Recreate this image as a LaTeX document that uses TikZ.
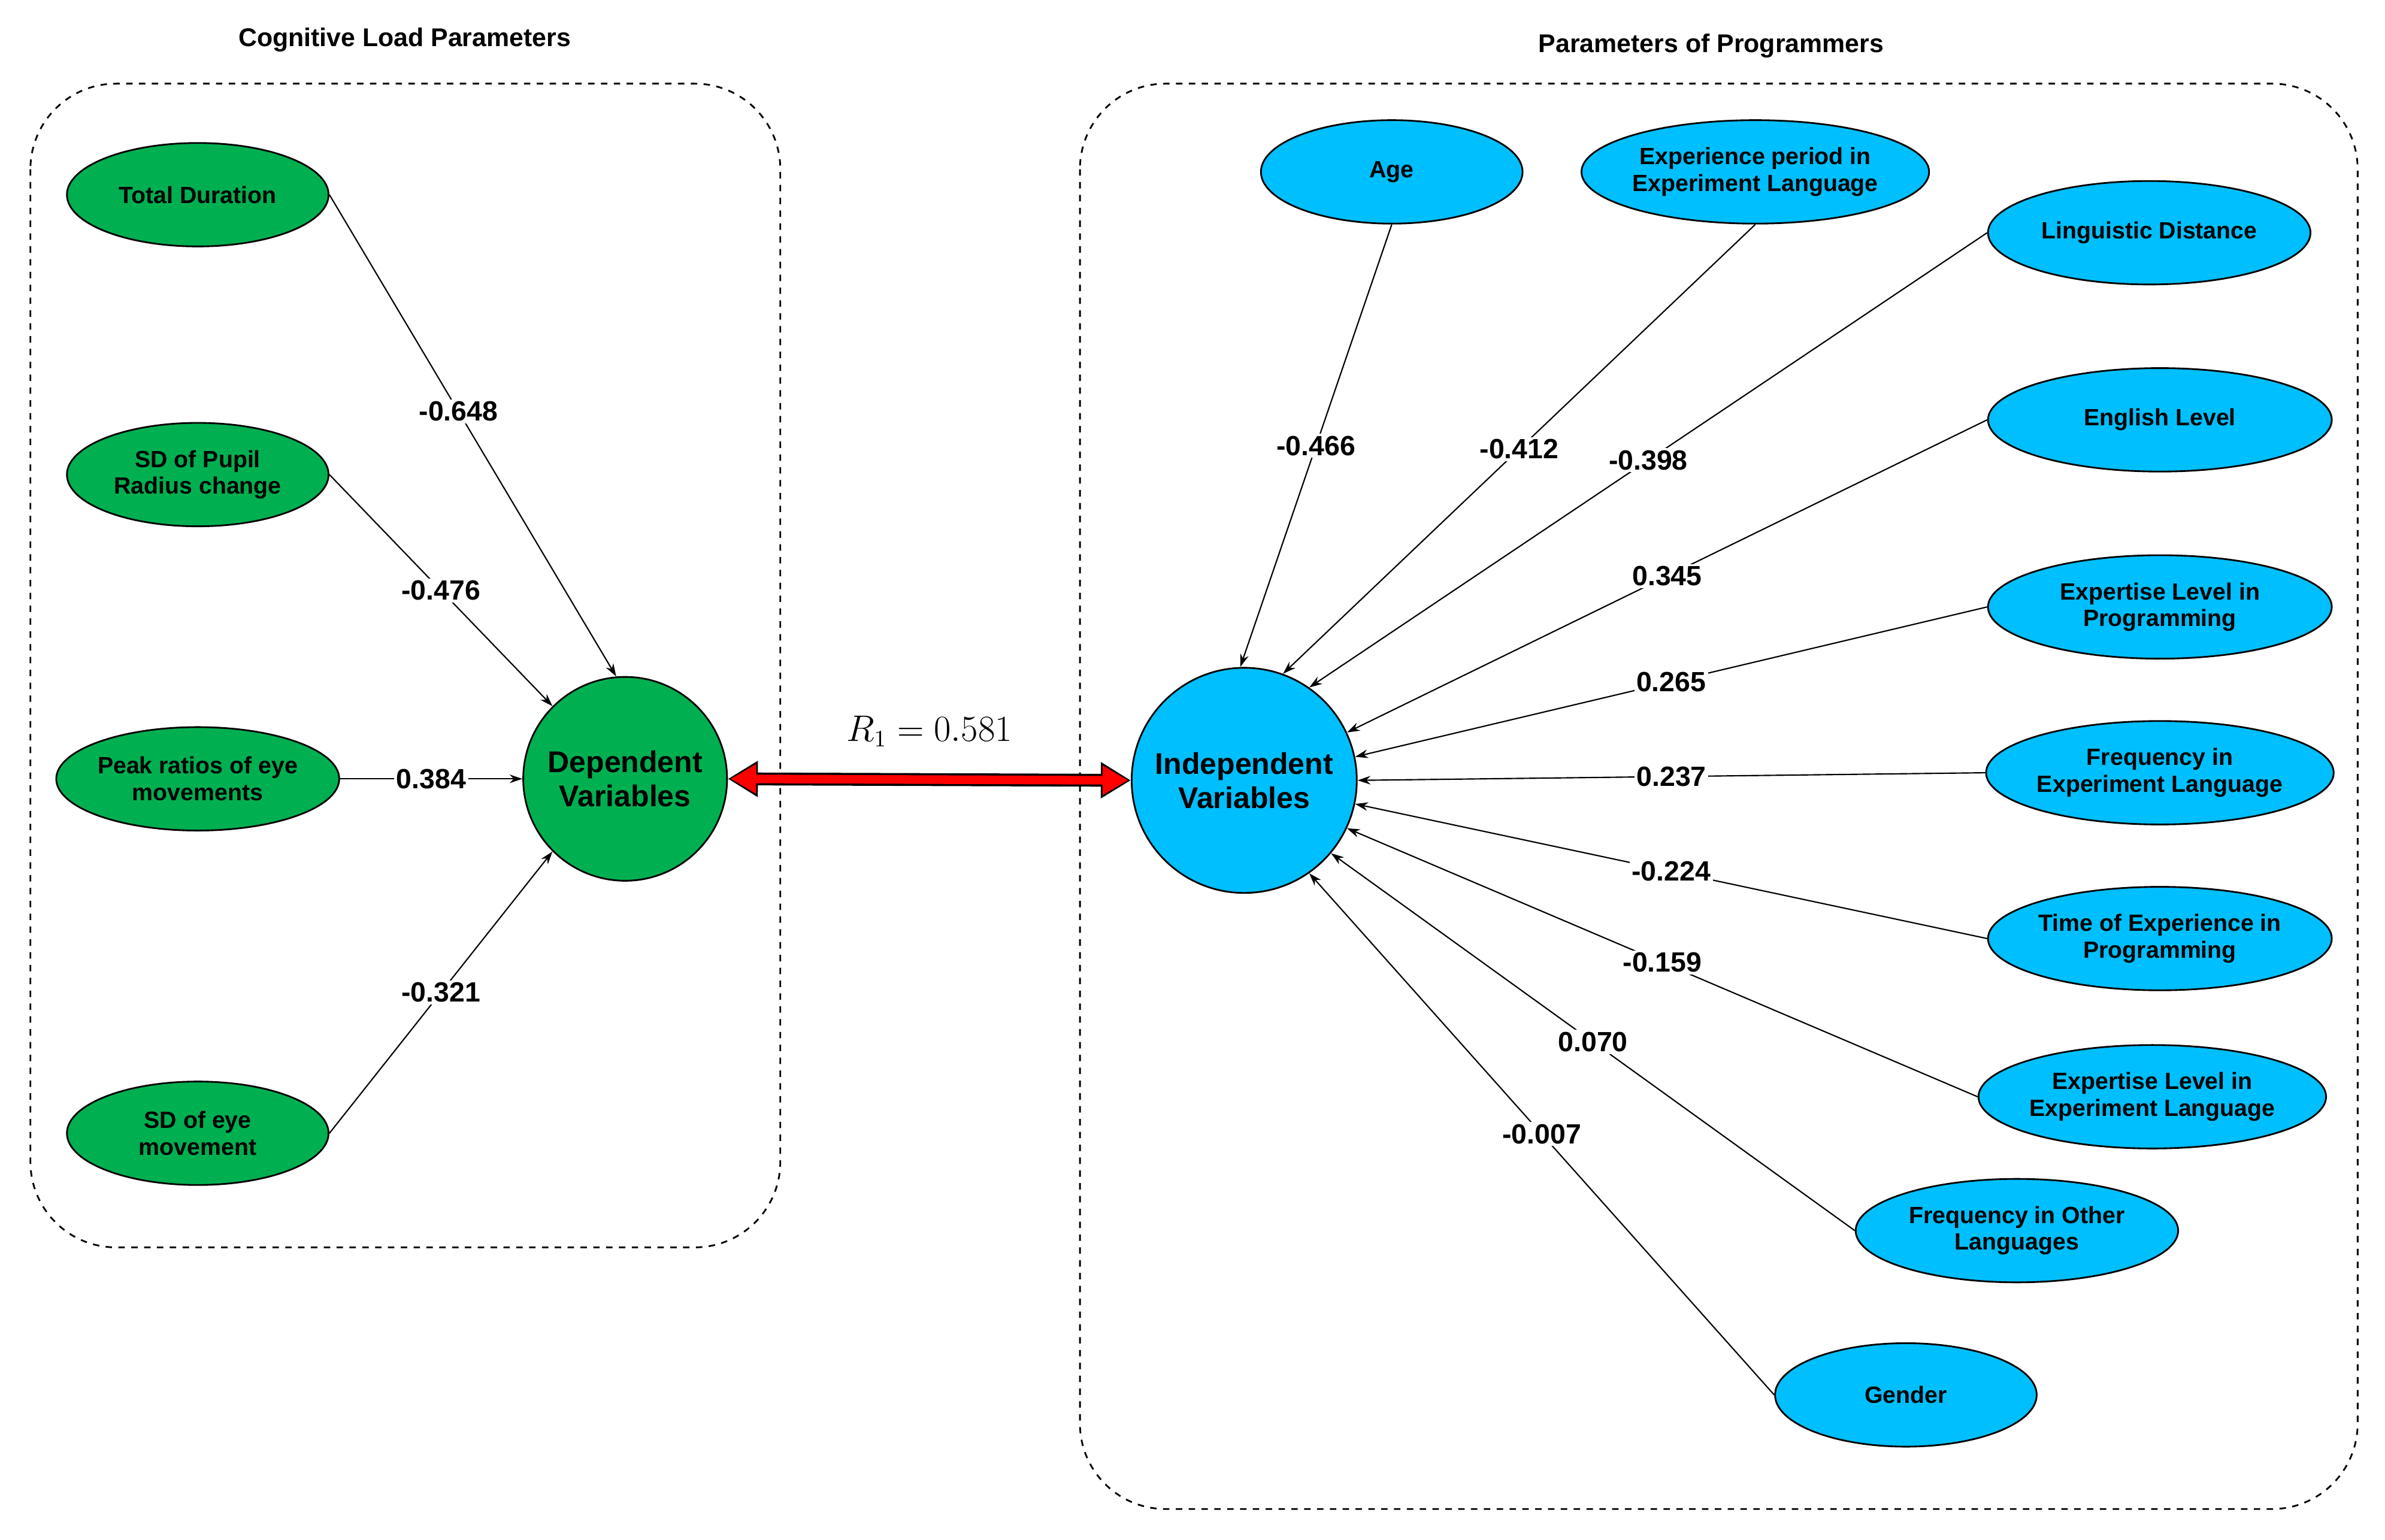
\documentclass[tikz,border=0pt]{standalone}
\usepackage{fontspec}
\setmainfont{Liberation Sans}
\usetikzlibrary{arrows.meta, shapes.geometric}
\definecolor{grn}{HTML}{00B050}
\definecolor{blu}{HTML}{00BFFF}
\begin{document}
\begin{tikzpicture}[x=0.025cm,y=-0.025cm,
  box/.style={draw, dashed, thick, rounded corners=40pt},
  title/.style={font=\fontsize{12}{14}\selectfont\bfseries},
  gell/.style={ellipse, draw, thick, fill=grn, minimum width=172*0.025cm, minimum height=68*0.025cm, align=center, inner sep=0pt, font=\fontsize{11}{12.5}\selectfont\bfseries},
  bell/.style={gell, fill=blu},
  circ/.style={circle, draw, thick, align=center, inner sep=0pt, font=\fontsize{14}{16}\selectfont\bfseries},
  lab/.style={fill=white, inner sep=1pt, font=\fontsize{13}{15}\selectfont\bfseries},
  arr/.style={-{Stealth[length=6pt,width=4pt]}, semithick}
]
\useasboundingbox (0,0) rectangle (1568,1012);
\draw[box] (20,55) rectangle (513,820);
\draw[box] (710,55) rectangle (1550,992);
\node[title] (t1) at (266,26) {Cognitive Load Parameters};
\node[title] (t2) at (1125,30) {Parameters of Programmers};

\node[gell] (td) at (130,128) {Total Duration};
\node[gell] (sp) at (130,312) {SD of Pupil\\Radius change};
\node[gell] (pr) at (130,512) {Peak ratios of eye\\movements};
\node[gell] (se) at (130,745) {SD of eye\\movement};
\node[circ, fill=grn, minimum size=134*0.025cm] (dep) at (411,512) {Dependent\\Variables};
\node[circ, fill=blu, minimum size=148*0.025cm] (ind) at (818,513) {Independent\\Variables};

\node[bell] (age) at (915,113) {Age};
\node[bell, minimum width=212*0.025cm] (exp) at (1154,113) {Experience period in\\Experiment Language};
\node[bell, minimum width=212*0.025cm] (lin) at (1413,153) {Linguistic Distance};
\node[bell, minimum width=226*0.025cm] (eng) at (1420,276) {English Level};
\node[bell, minimum width=226*0.025cm] (elp) at (1420,399) {Expertise Level in\\Programming};
\node[bell, minimum width=226*0.025cm] (fel) at (1420,508) {Frequency in\\Experiment Language};
\node[bell, minimum width=226*0.025cm] (tep) at (1420,617) {Time of Experience in\\Programming};
\node[bell, minimum width=226*0.025cm] (ele) at (1415,721) {Expertise Level in\\Experiment Language};
\node[bell, minimum width=212*0.025cm] (fol) at (1326,809) {Frequency in Other\\Languages};
\node[bell] (gen) at (1253,917) {Gender};

\draw[arr] (td.east) -- (dep.95) node[lab, pos=0.45] {-0.648};
\draw[arr] (sp.east) -- (dep.135) node[lab, pos=0.5] {-0.476};
\draw[arr] (pr.east) -- (dep.west) node[lab, pos=0.5] {0.384};
\draw[arr] (se.east) -- (dep.225) node[lab, pos=0.5] {-0.321};

\draw[arr] (age.south) -- (ind.92) node[lab, pos=0.5] {-0.466};
\draw[arr] (exp.south) -- (ind.70) node[lab, pos=0.5] {-0.412};
\draw[arr] (lin.west) -- (ind.55) node[lab, pos=0.5] {-0.398};
\draw[arr] (eng.west) -- (ind.25) node[lab, pos=0.5] {0.345};
\draw[arr] (elp.west) -- (ind.12) node[lab, pos=0.5] {0.265};
\draw[arr] (fel.west) -- (ind.east) node[lab, pos=0.5] {0.237};
\draw[arr] (tep.west) -- (ind.-12) node[lab, pos=0.5] {-0.224};
\draw[arr] (ele.west) -- (ind.-25) node[lab, pos=0.5] {-0.159};
\draw[arr] (fol.west) -- (ind.-40) node[lab, pos=0.5] {0.070};
\draw[arr] (gen.west) -- (ind.-55) node[lab, pos=0.5] {-0.007};

\draw[{Triangle[length=14pt,width=16pt]}-{Triangle[length=14pt,width=16pt]}, line width=6pt, black]
  (dep.east) -- (ind.west);
\draw[{Triangle[length=12pt,width=13pt]}-{Triangle[length=12pt,width=13pt]}, line width=4pt, red, shorten <=1.2pt, shorten >=1.2pt]
  (dep.east) -- (ind.west) node[midway, above=10pt, text=black, font=\fontsize{16}{18}\selectfont] (r1) {$R_1 = 0.581$};
\end{tikzpicture}
\end{document}
